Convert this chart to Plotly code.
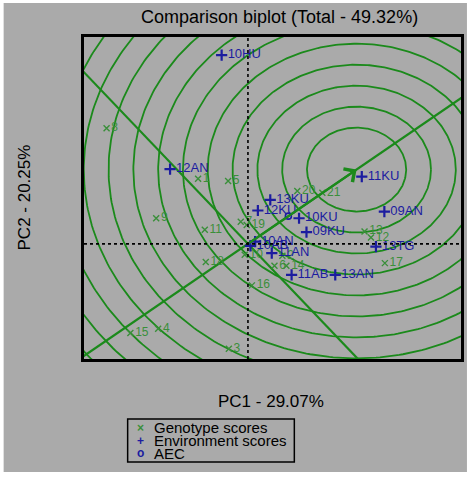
import numpy as np
import plotly.graph_objects as go

# ---------------- data ----------------
geno_labels = [str(i) for i in range(1, 22)]
geno_pc1 = [-2.01, 1.39, -0.77, -3.62, -0.80, 1.07, -0.29, -5.70, -3.70, -0.13, -1.74,
            4.96, 4.70, 1.55, -4.74, 0.16, 5.52, -1.70, -0.05, 1.99, 3.00]
geno_pc2 = [3.10, -0.57, -5.00, -4.05, 3.00, -1.05, 1.05, 5.51, 1.22, -0.52, 0.67,
            0.30, 0.59, -1.05, -4.25, -1.98, -0.92, -0.87, 0.90, 2.52, 2.44]

env_labels = ["10HU", "12AN", "11KU", "13KU", "12KU", "10KU", "09AN", "09KU",
              "10AN", "10AB", "11AN", "11AB", "13AN", "13TG"]
env_pc1 = [-1.06, -3.14, 4.59, 0.90, 0.40, 2.06, 5.50, 2.36, 0.29, 0.10, 0.96, 1.76, 3.52, 5.16]
env_pc2 = [9.00, 3.56, 3.20, 2.10, 1.59, 1.22, 1.54, 0.56, 0.11, -0.10, -0.44, -1.48, -1.48, -0.13]

aec_point = [1.63, 1.32]          # average environment
ideal_point = [4.38, 3.54]        # centre of concentric circles (ideal)
ring_steps = list(range(2, 16))   # circle radii in units

title_text = "Comparison biplot (Total - 49.32%)"
xlab = "PC1 - 29.07%"
ylab = "PC2 - 20.25%"

# ---------------- layout geometry ----------------
W, H = 474, 477
L, R, T, B = 84, 10, 37, 118
xr = [-6.61, 8.59]
yr = [-5.49, 9.86]

GREEN = "#1b8a1b"
GLAB = "#3a8f3a"
BLUE = "#1c1ca0"
BG = "#aaaaaa"
FONT = "Liberation Sans, Arial, sans-serif"

def px2paper(x, y):
    return (x - L) / (W - L - R), (H - B - y) / (H - T - B)

fig = go.Figure()

# concentric circles
th = np.linspace(0, 2 * np.pi, 361)
for r in ring_steps:
    fig.add_trace(go.Scatter(x=ideal_point[0] + r * np.cos(th), y=ideal_point[1] + r * np.sin(th),
                             mode="lines", line=dict(color=GREEN, width=1.8),
                             hoverinfo="skip", showlegend=False))

# AEC abscissa and perpendicular through origin
slope = ideal_point[1] / ideal_point[0]
xs = np.array([xr[0] - 2, xr[1] + 2])
fig.add_trace(go.Scatter(x=xs, y=slope * xs, mode="lines", line=dict(color=GREEN, width=2.2),
                         hoverinfo="skip", showlegend=False))
fig.add_trace(go.Scatter(x=xs, y=-xs / slope, mode="lines", line=dict(color=GREEN, width=2.2),
                         hoverinfo="skip", showlegend=False))

# dotted axes
fig.add_shape(type="line", x0=0, x1=0, y0=yr[0], y1=yr[1], xref="x", yref="y",
              line=dict(color="black", width=1.6, dash="dot"))
fig.add_shape(type="line", x0=xr[0], x1=xr[1], y0=0, y1=0, xref="x", yref="y",
              line=dict(color="black", width=1.6, dash="dot"))

# genotypes
fig.add_trace(go.Scatter(x=geno_pc1, y=geno_pc2, mode="markers+text", text=geno_labels,
                         textposition="middle right",
                         textfont=dict(family=FONT, size=12, color=GLAB),
                         marker=dict(symbol="x-thin", size=6, line=dict(color=GLAB, width=1.4)),
                         showlegend=False, cliponaxis=True))

# environments
fig.add_trace(go.Scatter(x=env_pc1, y=env_pc2, mode="markers+text", text=env_labels,
                         textposition="middle right",
                         textfont=dict(family=FONT, size=13, color=BLUE),
                         marker=dict(symbol="cross-thin", size=8, line=dict(color=BLUE, width=2.2)),
                         showlegend=False, cliponaxis=True))

# average environment marker
fig.add_trace(go.Scatter(x=[aec_point[0]], y=[aec_point[1]], mode="markers",
                         marker=dict(symbol="circle-open", size=6, color=BLUE, line=dict(width=1.6)),
                         showlegend=False))

# AEC arrow
fig.add_annotation(x=ideal_point[0], y=ideal_point[1], ax=0, ay=0, xref="x", yref="y",
                   axref="x", ayref="y", showarrow=True, arrowhead=4, arrowsize=1.4,
                   arrowwidth=2.2, arrowcolor=GREEN, text="")

# gray page rectangle (white border around image)
x0p, y0p = px2paper(3, 472)
x1p, y1p = px2paper(470, 3)
fig.add_shape(type="rect", xref="paper", yref="paper", x0=x0p, y0=y0p, x1=x1p, y1=y1p,
              fillcolor=BG, line=dict(width=0), layer="below")

def label(xpx, ypx, text, size, color="black", angle=0, xanchor="center"):
    ax_, ay_ = px2paper(xpx, ypx)
    fig.add_annotation(x=ax_, y=ay_, xref="paper", yref="paper", text=text, showarrow=False,
                       xanchor=xanchor, yanchor="middle", textangle=angle,
                       font=dict(family=FONT, size=size, color=color))

label(281, 17, title_text, 18)
label(272, 401, xlab, 17)
label(24, 197, ylab, 17, angle=-90)

# legend (manual)
lx0, ly0 = px2paper(128, 462)
lx1, ly1 = px2paper(296, 419)
fig.add_shape(type="rect", xref="paper", yref="paper", x0=lx0, y0=ly0, x1=lx1, y1=ly1,
              line=dict(color="black", width=1.5), fillcolor=BG)
leg_items = [("×", GLAB, "Genotype scores"), ("+", BLUE, "Environment scores"), ("o", BLUE, "AEC")]
leg_rows = [428, 440.5, 453]
for (sym, col, lab), yy in zip(leg_items, leg_rows):
    label(141, yy, "<b>" + sym + "</b>", 12, color=col)
    label(153, yy, lab, 15, xanchor="left")

fig.update_layout(
    width=W, height=H, margin=dict(l=L, r=R, t=T, b=B, pad=0),
    paper_bgcolor="white", plot_bgcolor=BG, showlegend=False,
    font=dict(family=FONT),
)
fig.update_xaxes(range=xr, showgrid=False, zeroline=False, showticklabels=False, ticks="",
                 showline=True, mirror=True, linecolor="black", linewidth=3)
fig.update_yaxes(range=yr, showgrid=False, zeroline=False, showticklabels=False, ticks="",
                 showline=True, mirror=True, linecolor="black", linewidth=3)

fig.write_html("out.html")
